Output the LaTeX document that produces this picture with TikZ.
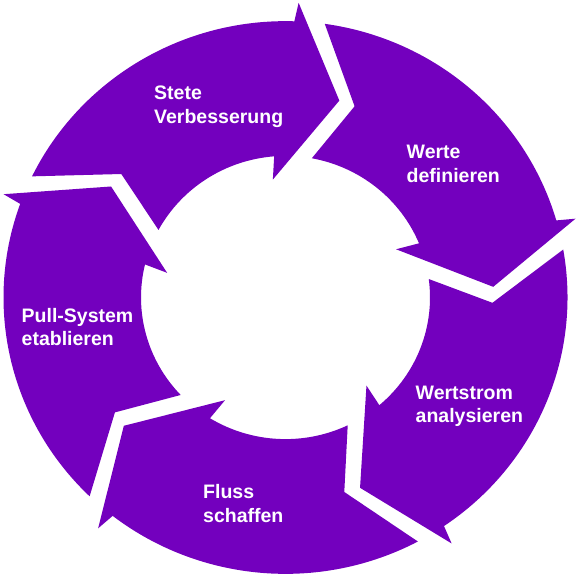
\documentclass[tikz,border=0pt]{standalone}
\usepackage{fontspec}
\setmainfont{Liberation Sans}
\usepackage{tikz}
\usetikzlibrary{positioning}

\definecolor{lila}{RGB}{115,0,190}

\tikzset{
	pfeil/.style={fill=lila,draw=none},
	schritt/.style={text=white,font=\bfseries\fontsize{19.5}{23.5}\selectfont,
		align=left,anchor=base west,inner sep=0pt}
}

\begin{document}
\begin{tikzpicture}[x=1pt,y=1pt]
	\useasboundingbox (0,0) rectangle (580,574);

	% five arrow segments, clockwise
	\begin{scope}[shift={(285.5,276.5)},yscale=0.98]
		\foreach \w in {0,72,...,288}
			\fill[pfeil]
				(154-\w:282) arc[start angle=154-\w,end angle=88.2-\w,radius=282]
				-- (87.5-\w:301) -- (75-\w:208) -- (96-\w:121)
				-- (94.5-\w:144.5) arc[start angle=94.5-\w,end angle=151.5-\w,radius=144.5]
				-- (142.5-\w:207) -- cycle;
	\end{scope}

	% labels (anchored at the baseline of the last line)
	\node[schritt] (stete)     at (154,450.5)   {Stete\\Verbesserung};
	\node[schritt] (werte)     at (406.5,391.5) {Werte\\definieren};
	\node[schritt] (wertstrom) at (415.5,151.5) {Wertstrom\\analysieren};
	\node[schritt] (fluss)     at (203,52)      {Fluss\\schaffen};
	\node[schritt] (pull)      at (21.5,228.5)  {Pull-System\\etablieren};
\end{tikzpicture}
\end{document}
